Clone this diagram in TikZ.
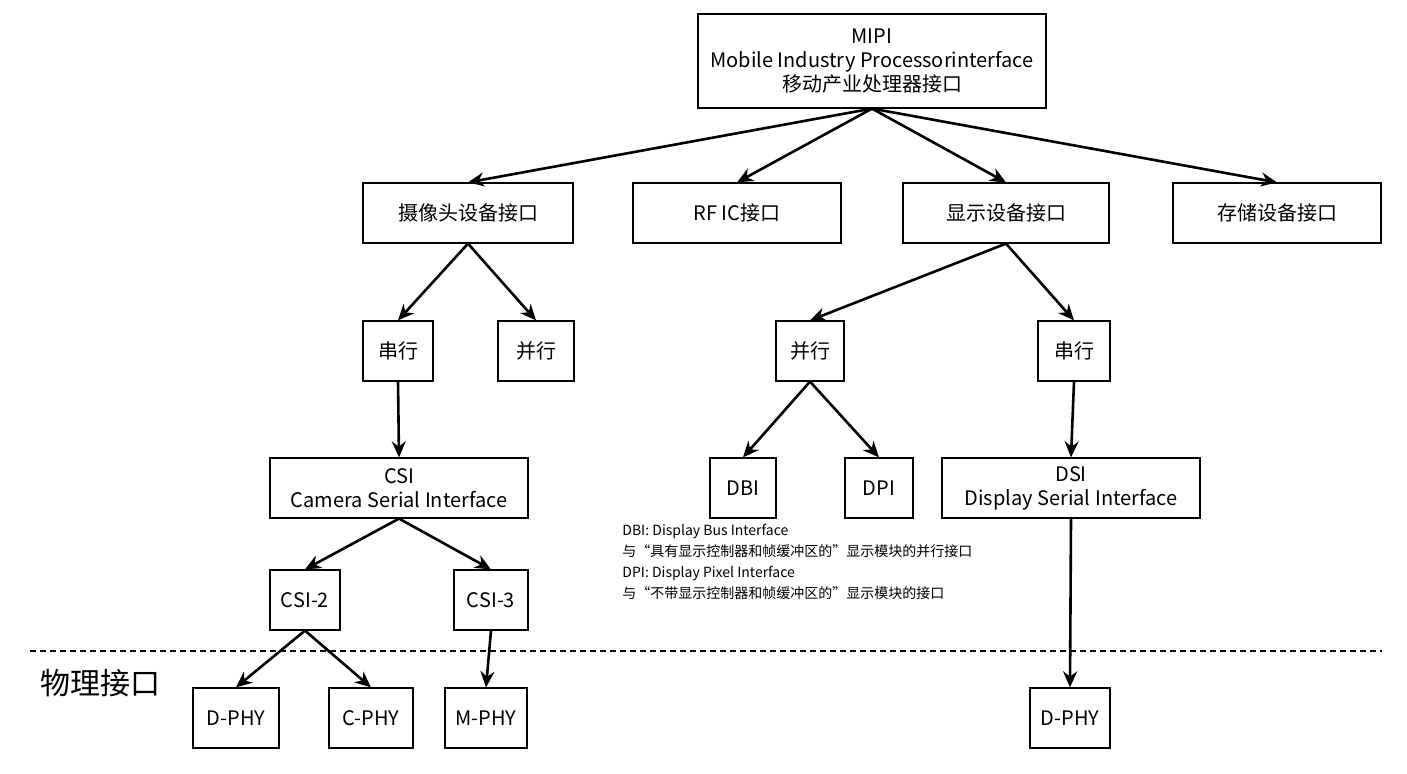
\documentclass[tikz,border=0pt]{standalone}
\usepackage{fontspec}
\setmainfont{Carlito}
\newfontfamily\cjk{Noto Sans CJK SC}
\usetikzlibrary{arrows.meta}
\begin{document}
\begin{tikzpicture}[x=0.5pt,y=-0.5pt,
  box/.style={draw,line width=0.6pt,minimum height=30pt,inner sep=2pt,align=center,font=\fontsize{10}{12}\selectfont\cjk},
  arr/.style={-{Stealth[length=8pt,width=7pt]},line width=1.3pt}]
\useasboundingbox (0,0) rectangle (1407,774);
\node[box,minimum width=174pt,minimum height=47pt] (mipi) at (872,61) {MIPI\\Mobile Industry Processorinterface\\移动产业处理器接口};
\node[box,minimum width=105pt] (cam) at (468,213) {摄像头设备接口};
\node[box,minimum width=104pt] (rf) at (737,213) {RF IC接口};
\node[box,minimum width=103pt] (disp) at (1006,213) {显示设备接口};
\node[box,minimum width=104pt] (stor) at (1277,213) {存储设备接口};
\node[box,minimum width=35pt] (s1) at (398,351) {串行};
\node[box,minimum width=38pt] (p1) at (536,351) {并行};
\node[box,minimum width=34pt] (p2) at (810,351) {并行};
\node[box,minimum width=36pt] (s2) at (1074,351) {串行};
\node[box,minimum width=129pt] (csi) at (399,488) {CSI\\Camera Serial Interface};
\node[box,minimum width=33pt] (dbi) at (743,488) {DBI};
\node[box,minimum width=34pt] (dpi) at (879,488) {DPI};
\node[box,minimum width=129pt] (dsi) at (1071,488) {DSI\\Display Serial Interface};
\node[box,minimum width=35pt] (c2) at (305,600) {CSI-2};
\node[box,minimum width=37pt] (c3) at (491,600) {CSI-3};
\node[box,minimum width=43pt] (d1) at (236,718) {D-PHY};
\node[box,minimum width=42pt] (cp) at (371,718) {C-PHY};
\node[box,minimum width=41pt] (mp) at (486,718) {M-PHY};
\node[box,minimum width=40pt] (d2) at (1070,718) {D-PHY};
\node[anchor=north west,align=left,inner sep=0pt,font=\fontsize{7}{10.5}\selectfont\cjk] (note) at (622,524)
 {DBI: Display Bus Interface\\与“具有显示控制器和帧缓冲区的”显示模块的并行接口\\DPI: Display Pixel Interface\\与“不带显示控制器和帧缓冲区的”显示模块的接口};
\coordinate (dl) at (30,651); \coordinate (dr) at (1382,651);
\draw[dashed,line width=1pt,dash pattern=on 3pt off 2pt] (dl) -- (dr);
\node[anchor=west,inner sep=0pt,font=\fontsize{15}{18}\selectfont\cjk] (phy) at (40,683) {物理接口};
\foreach \t in {cam,rf,disp,stor} \draw[arr] (mipi.south) -- (\t.north);
\draw[arr] (cam.south) -- (s1.north);
\draw[arr] (cam.south) -- (p1.north);
\draw[arr] (disp.south) -- (p2.north);
\draw[arr] (disp.south) -- (s2.north);
\draw[arr] (s1.south) -- (csi.north);
\draw[arr] (p2.south) -- (dbi.north);
\draw[arr] (p2.south) -- (dpi.north);
\draw[arr] (s2.south) -- (dsi.north);
\draw[arr] (csi.south) -- (c2.north);
\draw[arr] (csi.south) -- (c3.north);
\draw[arr] (c2.south) -- (d1.north);
\draw[arr] (c2.south) -- (cp.north);
\draw[arr] (c3.south) -- (mp.north);
\draw[arr] (dsi.south) -- (d2.north);
\end{tikzpicture}
\end{document}
